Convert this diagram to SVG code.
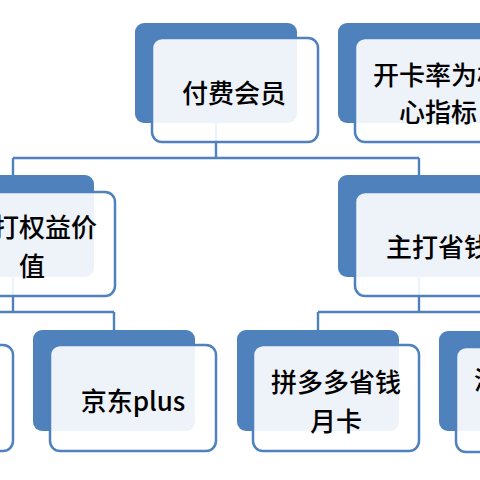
<svg xmlns="http://www.w3.org/2000/svg" width="480" height="480" viewBox="0 0 480 480">
<style>
.back{fill:#4F81BD;}
.front{fill:#FFFFFF;fill-opacity:0.9;stroke:#4F81BD;stroke-width:2.5;}
.conn{fill:none;stroke:#4F81BD;stroke-width:2.4;}
text{font-family:"Noto Sans CJK SC","Microsoft YaHei","Noto Sans",sans-serif;font-size:26px;font-weight:500;fill:#000;text-anchor:middle;dominant-baseline:central;}
</style>
<rect width="480" height="480" fill="#FFFFFF"/>
<g id="connectors">
<path class="conn" d="M216,123 V158 M13,158 H419 M13,158 V175 M419,158 V175"/>
<path class="conn" d="M13,277 V312 M-88,312 H114 M-88,312 V330 M114,312 V330"/>
<path class="conn" d="M419,277 V312 M318,312 H520 M318,312 V330 M520,312 V330"/>
</g>
<g id="node-root">
<rect class="back" x="135" y="23" width="162" height="100" rx="9"/>
<rect class="front" x="152" y="38" width="166" height="104" rx="10"/>
<text x="234" y="91">付费会员</text>
</g>
<g id="node-kpi">
<rect class="back" x="338" y="23" width="162" height="100" rx="9"/>
<rect class="front" x="355" y="38" width="166" height="104" rx="10"/>
<text x="438" y="73">开卡率为核</text>
<text x="438" y="110">心指标</text>
</g>
<g id="node-rights">
<rect class="back" x="-68" y="175" width="162" height="102" rx="9"/>
<rect class="front" x="-51" y="192" width="166" height="104" rx="10"/>
<text x="32" y="225">主打权益价</text>
<text x="32" y="264">值</text>
</g>
<g id="node-save">
<rect class="back" x="338" y="175" width="162" height="102" rx="9"/>
<rect class="front" x="355" y="192" width="166" height="104" rx="10"/>
<text x="438" y="245">主打省钱</text>
</g>
<g id="node-left3">
<rect class="back" x="-170" y="330" width="162" height="101" rx="9"/>
<rect class="front" x="-153" y="345" width="166" height="106" rx="10"/>
</g>
<g id="node-jd">
<rect class="back" x="33" y="330" width="162" height="101" rx="9"/>
<rect class="front" x="50" y="345" width="166" height="106" rx="10"/>
<text x="133" y="399">京东plus</text>
</g>
<g id="node-pdd">
<rect class="back" x="237" y="330" width="162" height="101" rx="9"/>
<rect class="front" x="253" y="345" width="166" height="106" rx="10"/>
<text x="336" y="380">拼多多省钱</text>
<text x="336" y="419">月卡</text>
</g>
<g id="node-tb">
<rect class="back" x="439" y="331" width="162" height="100" rx="9"/>
<rect class="front" x="456" y="347" width="166" height="105" rx="10"/>
<text x="539" y="378">淘宝省钱月</text>
<text x="539" y="417">卡</text>
</g>
</svg>
